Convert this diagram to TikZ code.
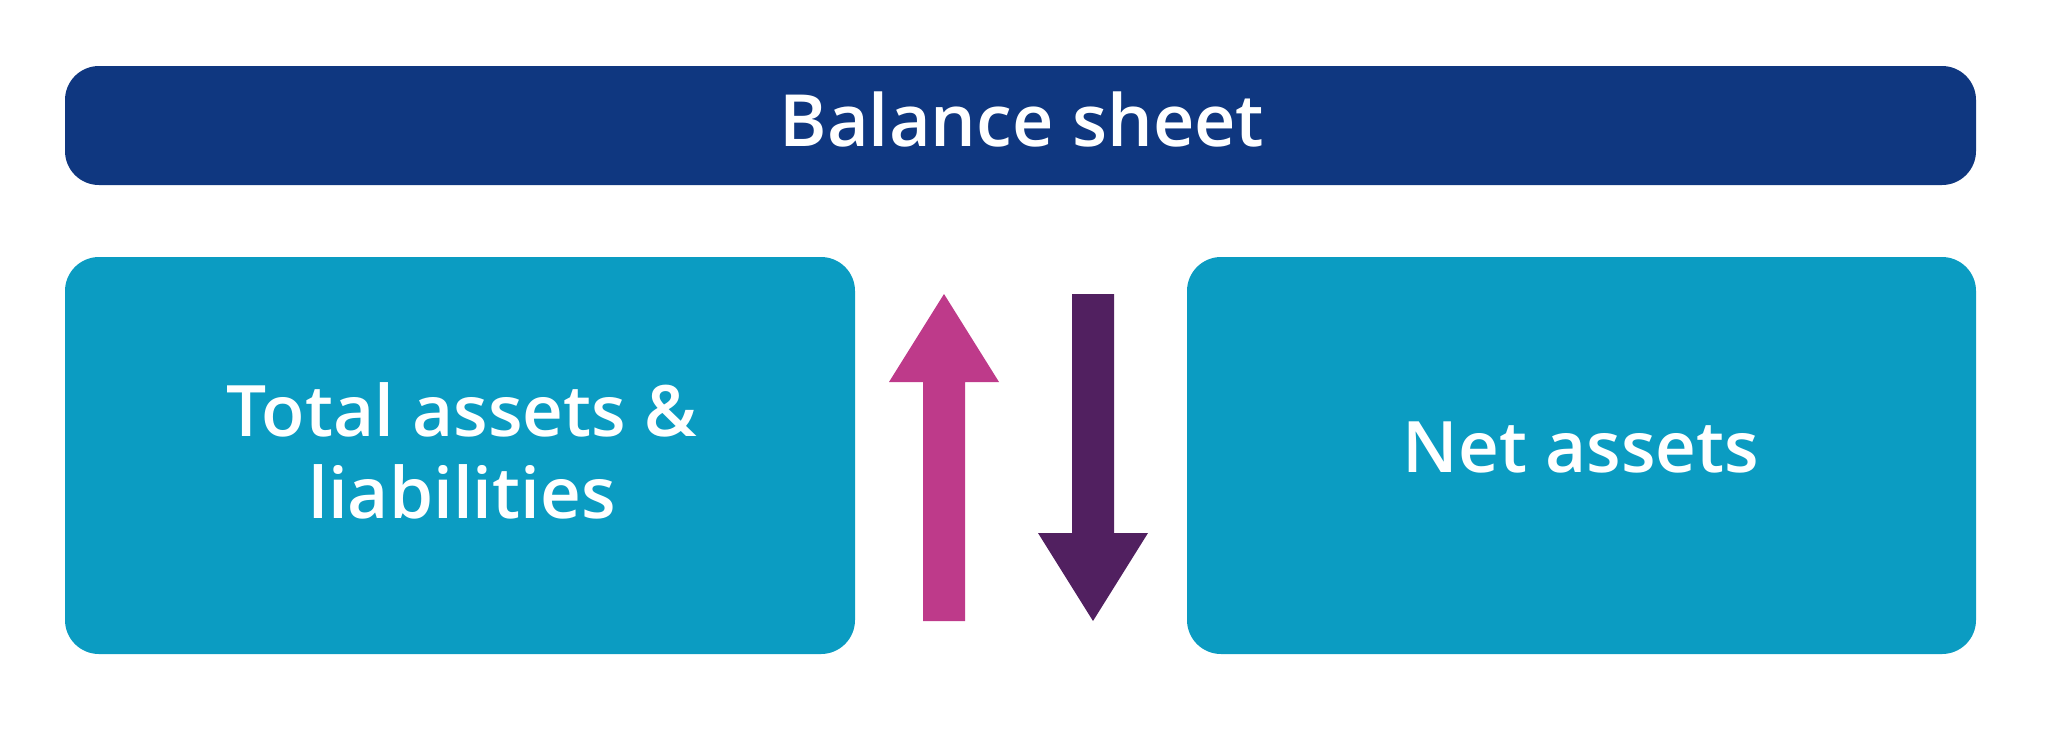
\documentclass[tikz,border=0pt]{standalone}
\usepackage{fontspec}
\setmainfont{Open Sans}[BoldFont={Open Sans Semibold}]
\definecolor{navy}{HTML}{0F3780}
\definecolor{teal}{HTML}{0B9CC2}
\definecolor{upcol}{HTML}{BE3A8A}
\definecolor{downcol}{HTML}{512060}
\tikzset{
  panel/.style={fill=#1, draw=none, rounded corners=34pt, inner sep=0pt},
  lbl/.style={text=white, font=\bfseries\fontsize{71}{81}\selectfont, inner sep=0pt, anchor=base}
}
\begin{document}
\begin{tikzpicture}[x=1pt,y=-1pt]
\useasboundingbox (0,0) rectangle (2048,740);
\node[panel=navy, minimum width=1911pt, minimum height=119pt] (bar) at (1020.5,125.5) {};
\node[panel=teal, minimum width=790pt, minimum height=397pt] (left) at (460,455.5) {};
\node[panel=teal, minimum width=789pt, minimum height=397pt] (right) at (1581.5,455.5) {};
\node[lbl, font=\bfseries\fontsize{72}{81}\selectfont] (bartxt) at (1022,146) {Balance sheet};
\node[lbl] (l1) at (462,436) {Total assets \&};
\node[lbl] (l2) at (462,518) {liabilities};
\node[lbl] (r1) at (1581,472) {Net assets};
% up arrow
\fill[upcol] (923,621) -- (923,382) -- (889,382) -- (944,294) -- (999,382) -- (965,382) -- (965,621) -- cycle;
% down arrow
\fill[downcol] (1072,294) -- (1072,533) -- (1038,533) -- (1093,621) -- (1148,533) -- (1114,533) -- (1114,294) -- cycle;
\end{tikzpicture}
\end{document}
